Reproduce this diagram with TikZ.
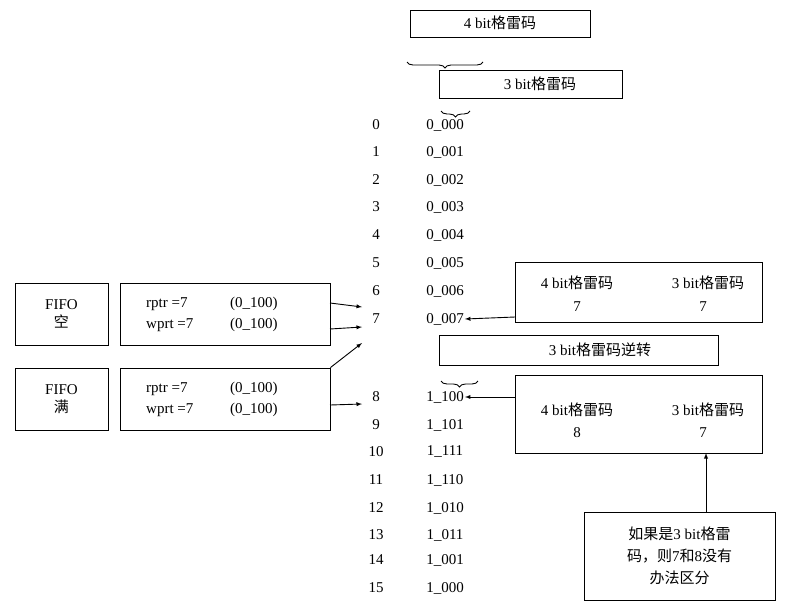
\documentclass[tikz,border=0pt]{standalone}
\usepackage{fontspec}
\setmainfont{Liberation Serif}
\newfontfamily\cjk{Noto Sans CJK SC}
\usetikzlibrary{positioning,decorations.pathreplacing}
\newcommand{\gc}{\cjk 格雷码}
\tikzset{
  box/.style={draw, line width=0.9pt},
  lbl/.style={font=\fontsize{15}{18}\selectfont, inner sep=1pt},
  arr/.style={->, >=latex, line width=0.9pt},
  brc/.style={decorate, decoration={brace, amplitude=6pt}, line width=0.9pt}
}
\begin{document}
\begin{tikzpicture}[x=1pt, y=-1pt]
  \useasboundingbox (0,0) rectangle (809,611);

  % Rows of counter values and codes
  \foreach \n/\code/\y in {0/0\_000/125, 1/0\_001/152, 2/0\_002/180, 3/0\_003/207,
      4/0\_004/235, 5/0\_005/263, 6/0\_006/291, 7/0\_007/319,
      8/1\_100/397, 9/1\_101/425, 10/1\_111/452, 11/1\_110/480,
      12/1\_010/508, 13/1\_011/535, 14/1\_001/560, 15/1\_000/588} {
    \node[lbl] (n\n) at (376,\y) {\n};
    \node[lbl] (c\n) at (445,\y) {\code};
  }

  % Top code boxes with braces
  \draw[box] (410,10) rectangle (590,37);
  \node[lbl] (g4) at (500,23) {4 bit\gc};
  \draw[brc] (483,62) -- (407,62);
  \draw[box] (439,70) rectangle (622,98);
  \node[lbl] (g3) at (540,84) {3 bit\gc};
  \draw[brc] (470,111) -- (441,111);

  % Mirrored 3 bit box
  \draw[box] (439,335) rectangle (718,365);
  \node[lbl] (g3r) at (600,350) {3 bit{\cjk 格雷码逆转}};
  \draw[brc] (478,381) -- (441,381);

  % Right compare boxes
  \node[box, minimum width=247pt, minimum height=60pt] (cmpA) at (638.5,292) {};
  \node[lbl] at (577,283) {4 bit\gc};
  \node[lbl] at (708,283) {3 bit\gc};
  \node[lbl] at (577,307) {7};
  \node[lbl] at (703,307) {7};
  \node[box, minimum width=247pt, minimum height=78pt] (cmpB) at (638.5,414) {};
  \node[lbl] at (577,410) {4 bit\gc};
  \node[lbl] at (708,410) {3 bit\gc};
  \node[lbl] at (577,433) {8};
  \node[lbl] at (703,433) {7};
  \coordinate (pA) at (515,317);
  \coordinate (pB) at (515,397);
  \draw[arr] (pA) -- (c7.east);
  \draw[arr] (pB) -- (c8.east);

  % Note box
  \node[box, minimum width=191pt, minimum height=88pt, align=center, lbl,
        font=\fontsize{15}{22}\selectfont] (note) at (679.5,556)
    {{\cjk 如果是}3 bit{\cjk 格雷}\\{\cjk 码，则}7{\cjk 和}8{\cjk 没有}\\{\cjk 办法区分}};
  \draw[arr] (note.north -| 706,0) -- (706,453);

  % FIFO state boxes
  \node[box, minimum width=93pt, minimum height=62pt, align=center, lbl] (empty) at (61.5,314) {FIFO\\{\cjk 空}};
  \node[box, minimum width=93pt, minimum height=62pt, align=center, lbl] (full) at (61.5,399) {FIFO\\{\cjk 满}};
  \node[box, minimum width=210pt, minimum height=62pt] (pe) at (225,314) {};
  \node[box, minimum width=210pt, minimum height=62pt] (pf) at (225,399) {};
  \node[lbl, anchor=west] at (145,304) {rptr =7};
  \node[lbl, anchor=west] at (229,304) {(0\_100)};
  \node[lbl, anchor=west] at (145,325) {wprt =7};
  \node[lbl, anchor=west] at (229,325) {(0\_100)};
  \node[lbl, anchor=west] at (145,389) {rptr =7};
  \node[lbl, anchor=west] at (229,389) {(0\_100)};
  \node[lbl, anchor=west] at (145,410) {wprt =7};
  \node[lbl, anchor=west] at (229,410) {(0\_100)};
  \coordinate (t7) at (362,307);
  \coordinate (t7b) at (362,327);
  \coordinate (t7c) at (362,343);
  \coordinate (t8) at (362,404);
  \draw[arr] (330,303) -- (t7);
  \draw[arr] (330,329) -- (t7b);
  \draw[arr] (pf.north east) -- (t7c);
  \draw[arr] (330,405) -- (t8);
\end{tikzpicture}
\end{document}
